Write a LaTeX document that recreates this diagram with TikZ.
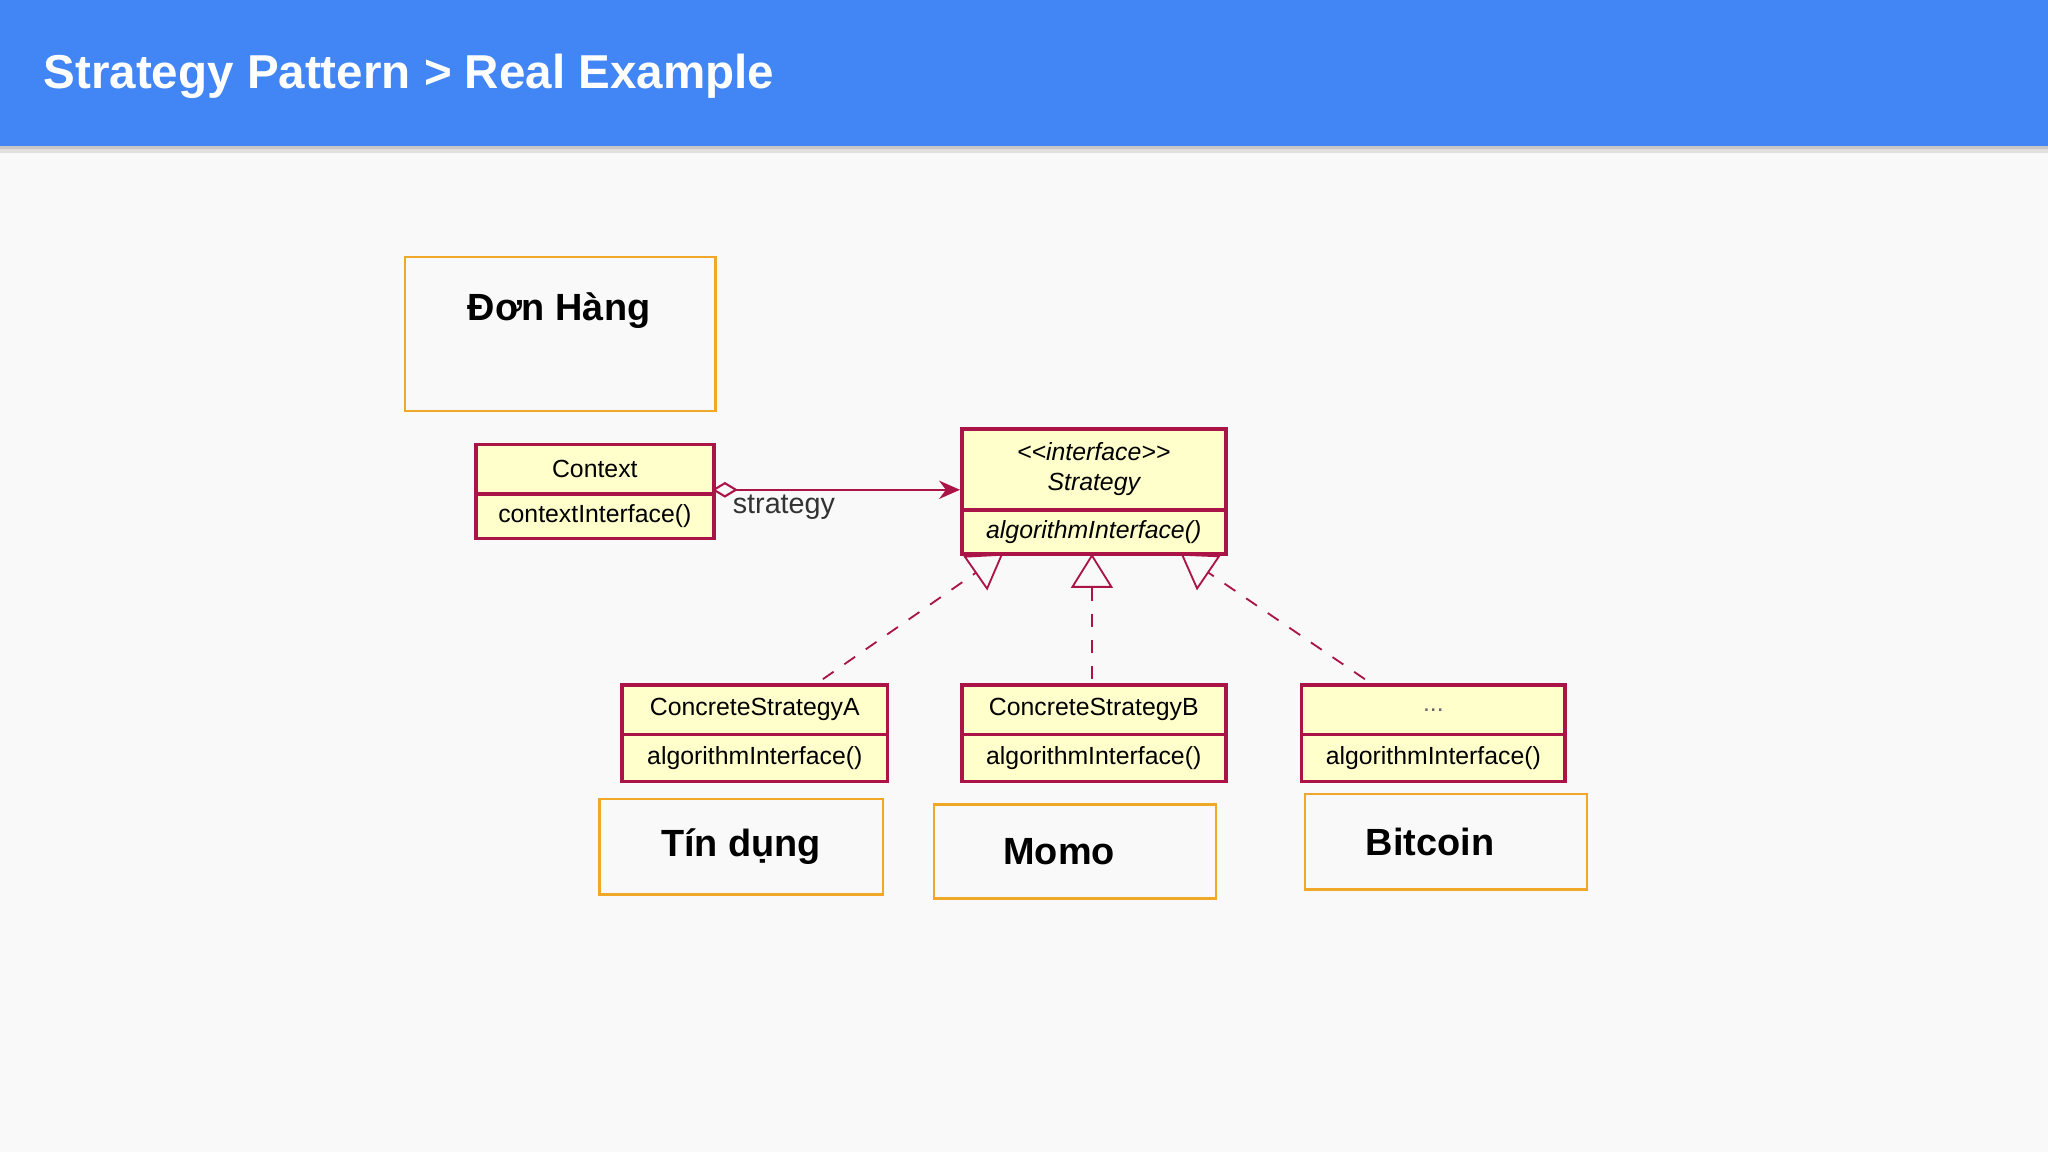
\documentclass[tikz,border=0pt]{standalone}
\usepackage{fontspec}
\setmainfont{Liberation Sans}
\usetikzlibrary{arrows.meta}
\definecolor{hdr}{RGB}{66,133,244}
\definecolor{bg}{RGB}{249,249,249}
\definecolor{org}{RGB}{240,168,40}
\definecolor{umlr}{RGB}{170,20,70}
\definecolor{umly}{RGB}{255,255,204}
\begin{document}
\begin{tikzpicture}[x=0.5pt,y=-0.5pt,
  obox/.style={draw=org,line width=0.9pt,anchor=north west,inner sep=0pt},
  uml/.style={draw=umlr,fill=umly,line width=1.4pt,anchor=north west,inner sep=0pt,font=\fontsize{9.5}{11}\selectfont},
  big/.style={font=\fontsize{14.5}{16}\selectfont\bfseries},
  real/.style={draw=umlr,dashed,dash pattern=on 5pt off 5pt,line width=0.7pt,-{Triangle[open,length=13pt,width=16pt]}}]
\fill[bg] (0,0) rectangle (1568,882);
\useasboundingbox (0,0) rectangle (1568,882);
\fill[black!12] (0,112) rectangle (1568,117);
\fill[black!22] (0,112) rectangle (1568,114);
\fill[hdr] (0,0) rectangle (1568,112);
\node[anchor=base west,inner sep=0pt,text=white,font=\fontsize{18.2}{22}\selectfont\bfseries] (title) at (33,68) {Strategy Pattern > Real Example};
% orange boxes
\node[obox,minimum width=119pt,minimum height=59pt] (don) at (309,196) {};
\node[big] (dont) at (428,238) {Đơn Hàng};
\node[obox,minimum width=108.5pt,minimum height=36.5pt,big] (tin) at (458,611) {Tín dụng};
\node[obox,minimum width=108pt,minimum height=36pt,big,text depth=-2pt] (momo) at (714,615) {\hspace*{-12pt}Momo};
\node[obox,minimum width=108pt,minimum height=36.5pt,big,text depth=0pt] (btc) at (998,607) {\hspace*{-12pt}Bitcoin};
% UML classes
\node[uml,minimum width=91pt,minimum height=19pt] (ctx) at (363,339) {Context};
\node[uml,minimum width=91pt,minimum height=17pt] (ctxm) at (363,377) {contextInterface()};
\node[uml,minimum width=101pt,minimum height=31pt,align=center,font=\fontsize{9.5}{11.5}\selectfont\itshape] (str) at (735,327) {{<}{<}interface{>}{>}\\Strategy};
\node[uml,minimum width=101pt,minimum height=17pt,font=\fontsize{9.5}{11}\selectfont\itshape] (strm) at (735,389) {algorithmInterface()};
\node[uml,minimum width=101.5pt,minimum height=19pt] (ca) at (475,523) {ConcreteStrategyA};
\node[uml,minimum width=101.5pt,minimum height=18pt] (cam) at (475,561) {algorithmInterface()};
\node[uml,minimum width=101pt,minimum height=19pt] (cb) at (735,523) {ConcreteStrategyB};
\node[uml,minimum width=101pt,minimum height=18pt] (cbm) at (735,561) {algorithmInterface()};
\node[uml,minimum width=101pt,minimum height=19pt,text=black!60] (cc) at (995,523) {...};
\node[uml,minimum width=101pt,minimum height=18pt] (ccm) at (995,561) {algorithmInterface()};
% association
\coordinate (as) at (545,375);
\coordinate (ae) at (735,375);
\draw[umlr,line width=0.8pt,{Diamond[open,length=10pt,width=6pt]}-{Stealth[length=8pt,width=7pt]}] (as) -- (ae);
\node[anchor=west,font=\fontsize{11}{13}\selectfont,text=black!80] (lbl) at (554,388) {strategy};
% realizations
\coordinate (a1) at (630,520); \coordinate (a2) at (768,424);
\coordinate (b1) at (836,520); \coordinate (b2) at (836,424);
\coordinate (c1) at (1045,520); \coordinate (c2) at (904,424);
\draw[real] (a1) -- (a2);
\draw[real] (b1) -- (b2);
\draw[real] (c1) -- (c2);
\end{tikzpicture}
\end{document}
